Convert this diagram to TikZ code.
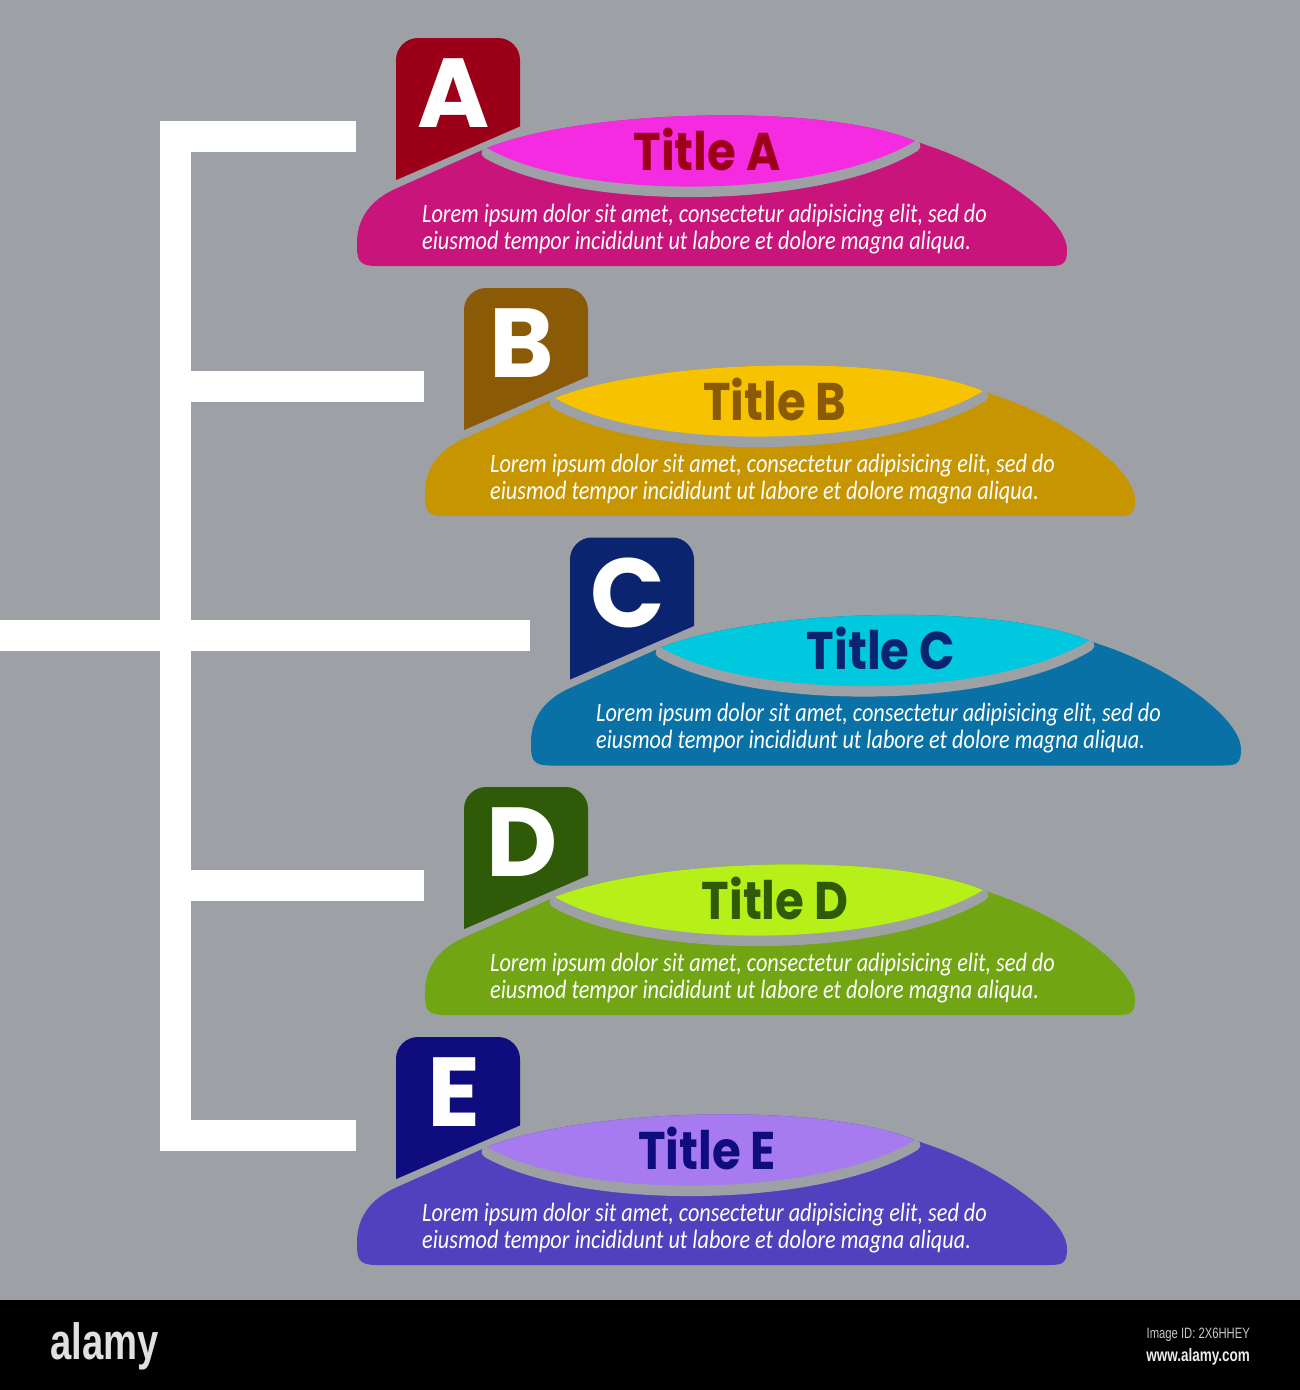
\documentclass[tikz,border=0pt]{standalone}
\usepackage{fontspec}
\usepackage{tikz}
\usetikzlibrary{positioning,calc}
\newfontfamily\letterfont{Poppins}
\newfontfamily\titlefont{Poppins}[FakeStretch=0.88]
\newfontfamily\bodyfont{Carlito}[FakeStretch=0.84]
\newfontfamily\markfont{Liberation Sans}[FakeStretch=0.75]
\definecolor{bg}{HTML}{9DA1A5}
\definecolor{tabA}{HTML}{9B0018}\definecolor{lensA}{HTML}{F52BE2}\definecolor{baseA}{HTML}{C9157B}
\definecolor{tabB}{HTML}{8B5A07}\definecolor{lensB}{HTML}{F7C300}\definecolor{baseB}{HTML}{C79500}
\definecolor{tabC}{HTML}{0A2470}\definecolor{lensC}{HTML}{00C8DF}\definecolor{baseC}{HTML}{0A71A6}
\definecolor{tabD}{HTML}{2F5A07}\definecolor{lensD}{HTML}{B6F018}\definecolor{baseD}{HTML}{72A513}
\definecolor{tabE}{HTML}{0F0D7E}\definecolor{lensE}{HTML}{A77AF0}\definecolor{baseE}{HTML}{5241BE}
\tikzset{branch/.style={
         draw=white,line width=31pt,line join=miter}}
\tikzset{tabbox/.style={
         fill=#1,rounded corners=22pt}}
\tikzset{gapline/.style={
         draw=bg,line width=11pt,line cap=round}}
\tikzset{tabletter/.style={
         text=white,inner sep=0pt,font=\letterfont\bfseries\fontsize{98}{98}\selectfont}}
\tikzset{ttl/.style={
         text=#1,inner sep=0pt,font=\titlefont\bfseries\fontsize{53}{53}\selectfont}}
\tikzset{bodyline/.style={
         text=white,inner sep=0pt,font=\bodyfont\itshape\fontsize{26.5}{27}\selectfont}}
\pgfdeclarelayer{canvas}
\pgfdeclarelayer{branch}
\pgfsetlayers{canvas,branch,main}
\begin{document}
\begin{tikzpicture}[x=1pt,y=-1pt,
mark/.style={text=#1,inner sep=0pt}]

\begin{pgfonlayer}{canvas}
\fill[bg] (0,0) rectangle (1300,1300);
\fill[black] (0,1300) rectangle (1300,1390);
\end{pgfonlayer}
\useasboundingbox (0,0) rectangle (1300,1390);

% 五个条目
\foreach \n/\ox/\oy in {A/396/38,B/464/288,C/570/537.5,D/464/787,E/396/1037} {
\begin{scope}[shift={(\ox,\oy)}]
\begin{scope}
\clip (-1,-1) -- (125,-1) -- (125,88) -- (-1,142.5) -- cycle;
\fill[tabbox=tab\n] (0,0) rectangle (124,200);
\end{scope}
\fill[base\n] (-20,228) .. controls (-39,228) and (-39,220) .. (-39,205)
  .. controls (-39,180) and (-25,162) .. (-1,151) -- (91,110)
  .. controls (185,72) and (425,64) .. (519,103) -- (530,107)
  .. controls (600,130) and (671,180) .. (671,212)
  .. controls (671,228) and (665,228) .. (650,228) -- cycle;
\draw[gapline] (519,108) .. controls (425,166) and (185,169) .. (91,115);
\fill[lens\n] (91,110) .. controls (185,72) and (425,64) .. (519,103)
  .. controls (425,161) and (185,164) .. (91,110) -- cycle;
\node[tabletter] (key\n) at (58,55) {\n};
\node[ttl=tab\n,anchor=base] (title\n) at (311,132) {Title \n};
\node[bodyline,anchor=base west] (lineone\n) at (26,184) {Lorem ipsum dolor sit amet, consectetur adipisicing elit, sed do};
\node[bodyline,anchor=base west] (linetwo\n) at (26,211) {eiusmod tempor incididunt ut labore et dolore magna aliqua.};
\coordinate (hook\n) at (-40,98);
\end{scope}
}

% 树枝
\coordinate (spine) at (175,0);
\coordinate (edge) at (0,0);
\begin{pgfonlayer}{branch}
\draw[branch] (hookA) -- (hookA -| spine) -- (hookE -| spine) -- (hookE);
\draw[branch] (hookB) -- (hookB -| spine);
\draw[branch] (hookD) -- (hookD -| spine);
\draw[branch] (hookC) -- (hookC -| edge);
\end{pgfonlayer}

% 底栏
\node[mark=white!88!black,anchor=base west,font=\markfont\bfseries\fontsize{51}{51}\selectfont] (brand) at (50,1359) {alamy};
\node[mark=white!78!black,anchor=base east,font=\markfont\fontsize{15}{15}\selectfont] (imageid) at (1250,1338) {Image ID: 2X6HHEY};
\node[mark=white!92!black,anchor=base east,font=\markfont\bfseries\fontsize{18}{18}\selectfont] (site) at (1250,1361) {www.alamy.com};

\end{tikzpicture}
\end{document}
